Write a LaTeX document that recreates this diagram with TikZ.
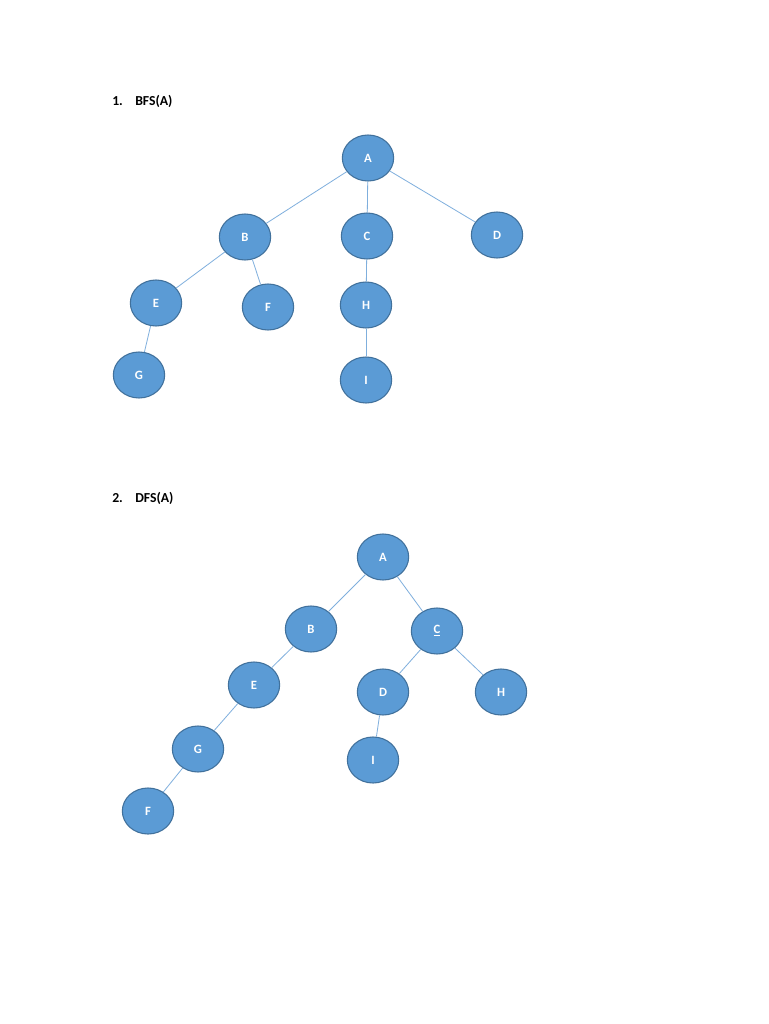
\documentclass[tikz,border=0pt]{standalone}
\usepackage{fontspec}
\setmainfont{Carlito}
\usetikzlibrary{shapes.geometric}
\definecolor{nodefill}{HTML}{5B9BD5}
\definecolor{nodeedge}{HTML}{41719C}
\definecolor{edgecol}{HTML}{7FAFDD}
\begin{document}
\begin{tikzpicture}[x=0.75pt,y=-0.75pt,
  vert/.style={ellipse, fill=nodefill, draw=nodeedge, line width=0.8pt,
    minimum width=38.5pt, minimum height=34.5pt, inner sep=0pt,
    text=white, font=\fontsize{9.5}{11}\selectfont\bfseries},
  link/.style={draw=edgecol, line width=0.6pt},
  heading/.style={anchor=west, inner sep=0pt, font=\fontsize{10.3}{12}\selectfont\bfseries}]
\useasboundingbox[fill=white] (0,0) rectangle (768,1024);
% headings
\node[heading] (n1) at (112,101) {1.};
\node[heading] (t1) at (135,101) {BFS(A)};
\node[heading] (n2) at (112,498) {2.};
\node[heading] (t2) at (135,498) {DFS(A)};
% BFS tree
\node[vert] (ba) at (368,158) {A};
\node[vert] (bb) at (245,237) {B};
\node[vert] (bc) at (367,236) {C};
\node[vert] (bd) at (497,235) {D};
\node[vert] (be) at (156,303) {E};
\node[vert] (bf) at (268,307) {F};
\node[vert] (bh) at (366,305) {H};
\node[vert] (bg) at (139,375) {G};
\node[vert] (bi) at (366,380) {I};
\draw[link] (ba) -- (bb);
\draw[link] (ba) -- (bc);
\draw[link] (ba) -- (bd);
\draw[link] (bb) -- (be);
\draw[link] (bb) -- (bf);
\draw[link] (bc) -- (bh);
\draw[link] (be) -- (bg);
\draw[link] (bh) -- (bi);
% DFS tree
\node[vert] (da) at (383,557) {A};
\node[vert] (db) at (311,629) {B};
\node[vert] (dc) at (437,631) {\underline{C}};
\node[vert] (de) at (254,685) {E};
\node[vert] (dd) at (383,692) {D};
\node[vert] (dh) at (501,692) {H};
\node[vert] (dg) at (198,749) {G};
\node[vert] (di) at (373,760) {I};
\node[vert] (df) at (148,811) {F};
\draw[link] (da) -- (db);
\draw[link] (da) -- (dc);
\draw[link] (db) -- (de);
\draw[link] (de) -- (dg);
\draw[link] (dg) -- (df);
\draw[link] (dc) -- (dd);
\draw[link] (dc) -- (dh);
\draw[link] (dd) -- (di);
\end{tikzpicture}
\end{document}
